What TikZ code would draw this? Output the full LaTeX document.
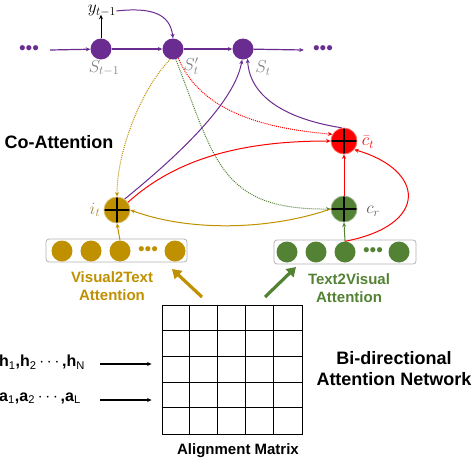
\documentclass[tikz,border=0pt]{standalone}
\usepackage{fontspec}
\setmainfont{Liberation Sans}
\usetikzlibrary{arrows.meta}
\definecolor{pcol}{HTML}{6A2C91}
\definecolor{gcol}{HTML}{BF9000}
\definecolor{ncol}{HTML}{548235}
\definecolor{rcol}{HTML}{FF0000}
\definecolor{lcol}{HTML}{7F7F7F}
\tikzset{
  pdot/.style={circle, fill=pcol, minimum size=21pt, inner sep=0pt},
  vdot/.style={circle, fill=#1, minimum size=21pt, inner sep=0pt},
  plusnode/.style={circle, minimum size=26pt, inner sep=0pt, fill=#1, draw=#1!60!white, line width=0.8pt,
    path picture={\draw[black,line width=1.4pt] (path picture bounding box.north) -- (path picture bounding box.south)
      (path picture bounding box.west) -- (path picture bounding box.east);}},
  dots/.style={inner sep=0pt, font=\fontsize{19}{19}\selectfont},
  mlab/.style={inner sep=0pt, font=\fontsize{17}{17}\selectfont},
  tip/.style={-{Stealth[length=4.5pt,width=4pt]}},
  ln/.style={tip, line width=1pt},
  dln/.style={tip, line width=1pt, densely dotted},
  fat/.style={-{Triangle[length=9pt,width=11pt]}, line width=3.2pt},
  boxrow/.style={draw=gray!60, rounded corners=3pt, line width=0.8pt},
  captxt/.style={font=\bfseries\fontsize{15}{18}\selectfont, align=center, inner sep=0pt},
}
\begin{document}
\begin{tikzpicture}[x=1pt,y=-1pt]
\useasboundingbox (0,0) rectangle (474,461);
% top chain
\node[dots, text=pcol] (ld) at (29,50) {\textbullet\textbullet\textbullet};
\node[pdot] (s1) at (101,49) {};
\node[pdot] (s2) at (173,49) {};
\node[pdot] (s3) at (243,49) {};
\node[dots, text=pcol] (rd) at (323,50) {\textbullet\textbullet\textbullet};
\node[mlab] (y) at (102,11) {$y_{t-1}$};
\node[mlab, text=lcol] (l1) at (104,68) {$S_{t-1}$};
\node[mlab, text=lcol] (l2) at (191,66) {$S'_t$};
\node[mlab, text=lcol] (l3) at (263,68) {$S_t$};
\draw[ln, pcol, line width=1.2pt] ([xshift=11pt]ld.east) -- (s1);
\draw[ln, pcol, line width=1.2pt] (s1) -- (s2);
\draw[ln, pcol, line width=1.2pt] (s2) -- (s3);
\draw[ln, pcol, line width=1.2pt] (s3) -- ([xshift=-9pt]rd.west);
\draw[ln, black] (s1.north) -- ([yshift=2pt]y.south -| s1.north);
\draw[ln, pcol] (y.east) .. controls (152,7) and (170,14) .. (s2.north);
% co-attention
\node[font=\bfseries\fontsize{18}{18}\selectfont, inner sep=0pt] (co) at (59,142) {Co-Attention};
\node[plusnode=rcol] (cb) at (344,141) {};
\node[mlab, text=rcol] (cbl) at (368,142) {$\bar{c}_t$};
\node[plusnode=gcol] (it) at (117,210) {};
\node[mlab, text=gcol!60!gray] (itl) at (95,210) {$i_t$};
\node[plusnode=ncol] (cr) at (344,209) {};
\node[mlab, text=lcol!70!black] (crl) at (373,211) {$c_r$};
% rows of circles
\draw[boxrow] (46,239) rectangle (187,262);
\node[vdot=gcol] (v1) at (62,251) {};
\node[vdot=gcol] (v2) at (91,251) {};
\node[vdot=gcol] (v3) at (120,251) {};
\node[dots, text=gcol] (vd) at (148,251) {\textbullet\textbullet\textbullet};
\node[vdot=gcol] (v4) at (175,251) {};
\draw[boxrow] (274,240) rectangle (416,264);
\node[vdot=ncol] (g1) at (287,252) {};
\node[vdot=ncol] (g2) at (316,252) {};
\node[vdot=ncol] (g3) at (345,252) {};
\node[dots, text=ncol] (gd) at (373,252) {\textbullet\textbullet\textbullet};
\node[vdot=ncol] (g4) at (399,252) {};
\node[captxt, text=gcol] (vt) at (112,286) {Visual2Text\\Attention};
\node[captxt, text=ncol] (tv) at (349,288) {Text2Visual\\Attention};
% connectors
\draw[dln, gcol] (s2.255) .. controls (142,88) and (117,150) .. (it.north);
\draw[dln, ncol] (s2.285) .. controls (215,160) and (220,210) .. (cr.west);
\draw[dln, rcol] (s2.300) .. controls (200,110) and (260,128) .. (cb.150);
\draw[ln, pcol] (it.55) .. controls (185,150) and (235,100) .. (s3.265);
\draw[ln, pcol] (cb.100) .. controls (292,120) and (250,100) .. (s3.295);
\draw[ln, rcol] (it.35) .. controls (180,155) and (250,141) .. (cb.west);
\draw[ln, gcol] (cr.west) .. controls (270,230) and (190,232) .. (it.east);
\draw[ln, rcol] (cr.north) -- (cb.south);
\draw[ln, rcol] (g3.north) .. controls (430,225) and (425,170) .. (cb.-40);
\draw[ln, ncol] (g3.north) -- (cr.south);
\draw[ln, gcol] (v3.north) -- (it.south);
\coordinate (ga1) at (202,297);
\coordinate (ga2) at (172,269);
\coordinate (na1) at (265,297);
\coordinate (na2) at (296,267);
\draw[fat, gcol] (ga1) -- (ga2);
\draw[fat, ncol] (na1) -- (na2);
% matrix
\node[draw, line width=0.9pt, minimum width=140pt, minimum height=129pt, inner sep=0pt] (mat) at (232,369.5) {};
\foreach \i in {1,2,3,4} {
  \draw[line width=0.9pt] ([xshift=\i*28pt]mat.north west) -- ([xshift=\i*28pt]mat.south west);
  \draw[line width=0.9pt] ([yshift=-\i*25.8pt]mat.north west) -- ([yshift=-\i*25.8pt]mat.north east);
}
\node[font=\bfseries\fontsize{15}{15}\selectfont, inner sep=0pt] (am) at (238,451) {Alignment Matrix};
\node[font=\bfseries\fontsize{18}{21}\selectfont, align=center, inner sep=0pt] (bi) at (394,369) {Bi-directional\\Attention Network};
\node[font=\fontsize{16}{16}\selectfont, anchor=west, inner sep=0pt] (hl) at (-1,362) {\textbf{h}\textsubscript{1}\textbf{,h}\textsubscript{2}\,$\cdots$\,\textbf{,h}\textsubscript{N}};
\node[font=\fontsize{16}{16}\selectfont, anchor=west, inner sep=0pt] (al) at (-1,398) {\textbf{a}\textsubscript{1}\textbf{,a}\textsubscript{2}\,$\cdots$\,\textbf{,a}\textsubscript{L}};
\coordinate (hs) at (100,364);
\coordinate (as) at (100,400);
\draw[ln, black, line width=1.1pt] (hs) -- ([xshift=-10pt]mat.west |- hs);
\draw[ln, black, line width=1.1pt] (as) -- ([xshift=-10pt]mat.west |- as);
\end{tikzpicture}
\end{document}
